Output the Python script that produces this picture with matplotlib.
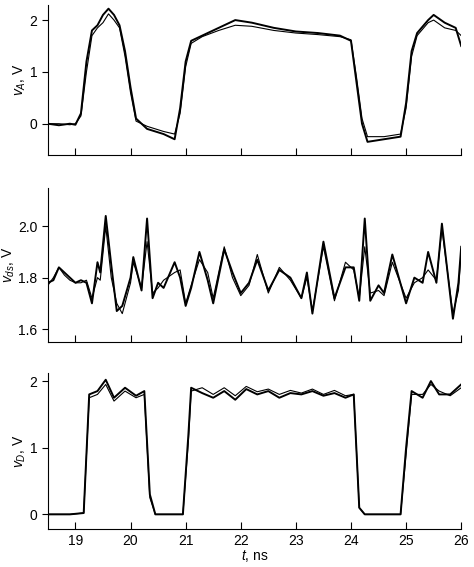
import matplotlib
matplotlib.use("Agg")
import matplotlib.pyplot as plt
plt.rcParams['font.family'] = ['Liberation Sans', 'DejaVu Sans']
plt.rcParams['mathtext.fontset'] = 'custom'
plt.rcParams['mathtext.it'] = 'Liberation Sans:italic'
plt.rcParams['mathtext.rm'] = 'Liberation Sans'

tA = [18.5,18.7,18.9,19.0,19.1,19.2,19.3,19.4,19.5,19.6,19.7,19.8,19.9,20.0,20.1,20.3,20.6,20.8,20.9,21.0,21.1,21.3,21.6,21.9,22.2,22.6,23.0,23.4,23.8,24.0,24.1,24.2,24.3,24.6,24.9,25.0,25.1,25.2,25.4,25.5,25.7,25.9,26.0]
vA1 = [0.0,-0.03,0.0,-0.02,0.2,1.2,1.8,1.9,2.1,2.22,2.1,1.9,1.4,0.7,0.1,-0.1,-0.2,-0.3,0.3,1.2,1.6,1.7,1.85,2.0,1.95,1.85,1.78,1.75,1.7,1.6,0.8,0.0,-0.35,-0.3,-0.25,0.4,1.4,1.75,2.0,2.1,1.95,1.85,1.5]
vA2 = [0.0,0.0,-0.02,0.0,0.15,1.0,1.7,1.85,1.95,2.12,2.0,1.85,1.3,0.6,0.05,-0.05,-0.15,-0.2,0.2,1.1,1.55,1.68,1.8,1.9,1.88,1.8,1.75,1.72,1.68,1.62,0.9,0.1,-0.25,-0.25,-0.2,0.3,1.3,1.7,1.95,2.0,1.85,1.8,1.7]

tD = [18.5,18.9,19.15,19.25,19.4,19.55,19.7,19.9,20.1,20.25,20.35,20.45,20.95,21.05,21.1,21.3,21.5,21.7,21.9,22.1,22.3,22.5,22.7,22.9,23.1,23.3,23.5,23.7,23.9,24.05,24.15,24.25,24.9,25.0,25.1,25.3,25.45,25.6,25.8,26.0]
vD1 = [0.0,0.0,0.02,1.8,1.85,2.02,1.75,1.9,1.78,1.85,0.3,0.0,0.0,1.2,1.9,1.82,1.75,1.85,1.72,1.88,1.8,1.85,1.75,1.82,1.8,1.85,1.78,1.82,1.75,1.8,0.1,0.0,0.0,1.0,1.85,1.75,2.0,1.8,1.8,1.95]
vD2 = [0.0,0.0,0.02,1.75,1.8,1.95,1.7,1.85,1.75,1.8,0.25,0.0,0.0,1.1,1.85,1.9,1.8,1.9,1.78,1.92,1.84,1.88,1.8,1.86,1.82,1.88,1.8,1.86,1.78,1.8,0.1,0.0,0.0,0.9,1.8,1.8,1.95,1.85,1.78,1.9]

tds = [18.5,18.6,18.7,18.8,18.9,19.0,19.1,19.2,19.3,19.4,19.45,19.55,19.65,19.75,19.85,20.0,20.05,20.2,20.3,20.4,20.5,20.6,20.8,20.9,21.0,21.1,21.25,21.4,21.5,21.7,21.85,22.0,22.15,22.3,22.5,22.7,22.9,23.1,23.2,23.3,23.5,23.7,23.9,24.05,24.15,24.25,24.35,24.5,24.6,24.75,25.0,25.15,25.3,25.4,25.55,25.65,25.85,25.95,26.0]
vds1 = [1.78,1.79,1.84,1.82,1.80,1.78,1.79,1.78,1.70,1.86,1.82,2.04,1.85,1.67,1.69,1.80,1.88,1.75,2.03,1.72,1.78,1.76,1.86,1.80,1.69,1.76,1.90,1.79,1.70,1.91,1.82,1.74,1.78,1.87,1.75,1.83,1.80,1.72,1.82,1.66,1.94,1.72,1.84,1.84,1.71,2.03,1.71,1.77,1.74,1.89,1.70,1.80,1.78,1.90,1.78,2.01,1.64,1.78,1.92]
vds2 = [1.77,1.80,1.84,1.81,1.79,1.78,1.78,1.79,1.72,1.80,1.79,2.00,1.80,1.70,1.66,1.78,1.86,1.76,1.94,1.74,1.76,1.79,1.82,1.83,1.70,1.77,1.87,1.82,1.72,1.92,1.80,1.73,1.77,1.89,1.74,1.84,1.79,1.72,1.80,1.67,1.92,1.71,1.86,1.83,1.72,1.92,1.74,1.75,1.73,1.86,1.72,1.78,1.80,1.83,1.79,1.99,1.66,1.75,1.90]

fig = plt.figure(figsize=(4.74, 5.67), dpi=100)
axs = [fig.add_axes([0.101, 0.727, 0.872, 0.265]),
       fig.add_axes([0.101, 0.397, 0.872, 0.272]),
       fig.add_axes([0.101, 0.067, 0.872, 0.275])]
data = [(tA, vA1, vA2, (-0.6, 2.3), [0, 1, 2], r'$v_A$, V'),
        (tds, vds1, vds2, (1.55, 2.15), [1.6, 1.8, 2.0], r'$v_{ds}$, V'),
        (tD, vD1, vD2, (-0.22, 2.12), [0, 1, 2], r'$v_D$, V')]
for ax, (t, a, b, yl, yt, lab) in zip(axs, data):
    ax.plot(t, a, color='black', lw=1.4)
    ax.plot(t, b, color='black', lw=0.8)
    ax.set_xlim(18.5, 26)
    ax.set_ylim(*yl)
    ax.set_yticks(yt)
    if yt[0] == 1.6:
        ax.set_yticklabels(['1.6', '1.8', '2.0'])
    ax.set_xticks(range(19, 27))
    ax.spines['top'].set_visible(False)
    ax.spines['right'].set_visible(False)
    ax.tick_params(axis='x', direction='in', length=5, labelsize=10)
    ax.tick_params(axis='y', direction='out', length=4, labelsize=10)
    ax.set_ylabel(lab, fontsize=10, labelpad=1)
    if ax is not axs[2]:
        ax.set_xticklabels([])
axs[2].set_xlabel(r'$t$, ns', fontsize=10, labelpad=0)
fig.savefig('out.png', dpi=100)
